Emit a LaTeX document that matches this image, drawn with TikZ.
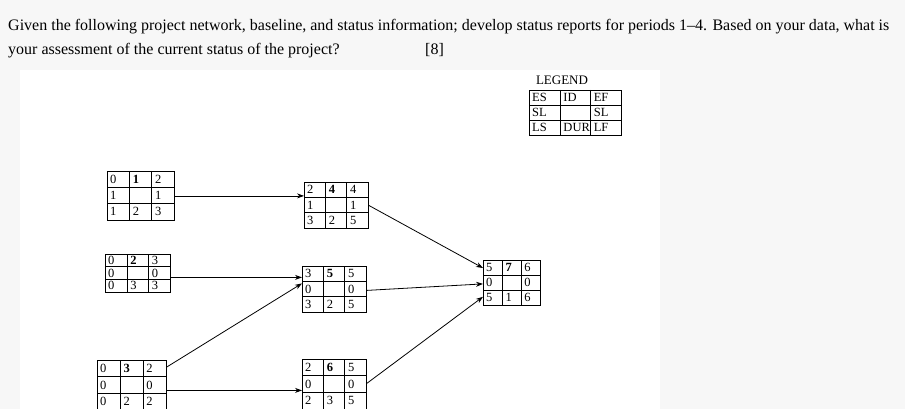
\documentclass[tikz,border=0pt]{standalone}
\usepackage{fontspec}
\setmainfont{Liberation Serif}
\usetikzlibrary{calc,arrows.meta}
\newcommand\actbox[6]{%
  \node[draw, line width=0.8pt, inner sep=0pt, anchor=north west, minimum width={(#4-#2)*1pt}, minimum height={(#5-#3)*1pt}] (#1) at (#2,#3) {};
  \pgfmathsetmacro\xa{#2+(#4-#2)*0.34}%
  \pgfmathsetmacro\xb{#2+(#4-#2)*0.67}%
  \pgfmathsetmacro\ya{#3+(#5-#3)/3}%
  \pgfmathsetmacro\yb{#3+(#5-#3)*2/3}%
  \draw[line width=0.8pt] (\xa,#3) -- (\xa,#5) (\xb,#3) -- (\xb,#5) (#2,\ya) -- (#4,\ya) (#2,\yb) -- (#4,\yb);
  \foreach \t [count=\i from 0] in {#6} {
    \pgfmathsetmacro\cx{ifthenelse(mod(\i,3)==0,#2,ifthenelse(mod(\i,3)==1,\xa,\xb))+3}
    \pgfmathsetmacro\cy{#3+(#5-#3)/6+(#5-#3)/3*int(\i/3)}
    \node[cell] at (\cx,\cy) {\t};
  }
}
\tikzset{cell/.style={anchor=west, inner sep=0pt, font=\fontsize{12.5}{13}\selectfont},
  hd/.style={anchor=base west, inner sep=0pt, font=\fontsize{16}{18}\selectfont},
  arr/.style={line width=0.8pt, -{Stealth[length=7pt,width=5pt]}}}
\begin{document}
\begin{tikzpicture}[x=1pt,y=-1pt]
\fill[gray!6] (0,0) rectangle (905,409);
\fill[white] (20,70) rectangle (660,409);
\useasboundingbox (0,0) rectangle (905,409);
\node[hd] (t1) at (8,31) {Given the following project network, baseline, and status information; develop status reports for periods 1--4. Based on your data, what is};
\node[hd] (t2) at (8,55) {your assessment of the current status of the project?};
\node[hd] (t3) at (425,55) {[8]};
\node[inner sep=0pt, font=\fontsize{13}{14}\selectfont] (lg) at (562,80) {LEGEND};
\actbox{leg}{529}{90}{621}{135}{ES,ID,EF,SL,,SL,LS,DUR,LF}
\actbox{n1}{107}{171}{174}{220}{0,\textbf{1},2,1,,1,1,2,3}
\actbox{n2}{105}{254}{170}{292}{0,\textbf{2},3,0,,0,0,3,3}
\actbox{n3}{97}{360}{166}{410}{0,\textbf{3},2,0,,0,0,2,2}
\actbox{n4}{304}{182}{368}{228}{2,\textbf{4},4,1,,1,3,2,5}
\actbox{n5}{302}{266}{366}{312}{3,\textbf{5},5,0,,0,3,2,5}
\actbox{n6}{302}{359}{366}{409}{2,\textbf{6},5,0,,0,2,3,5}
\actbox{n7}{483}{260}{540}{305}{5,\textbf{7},6,0,,0,5,1,6}
\draw[arr] (n1.east) -- (n1.east -| n4.west);
\draw[arr] ($(n2.east)+(0,4)$) -- ($(n2.east -| n5.west)+(0,4)$);
\draw[arr] ($(n3.north east)+(0,7)$) -- ($(n5.west)+(0,-6)$);
\draw[arr] ($(n3.east)+(0,5)$) -- ($(n3.east -| n6.west)+(0,5)$);
\draw[arr] (n4.east) -- ($(n7.north west)+(0,8)$);
\draw[arr] ($(n5.east)+(0,1)$) -- ($(n7.west)+(0,1)$);
\draw[arr] ($(n6.east)+(0,-1)$) -- ($(n7.south west)+(0,-9)$);
\end{tikzpicture}
\end{document}
